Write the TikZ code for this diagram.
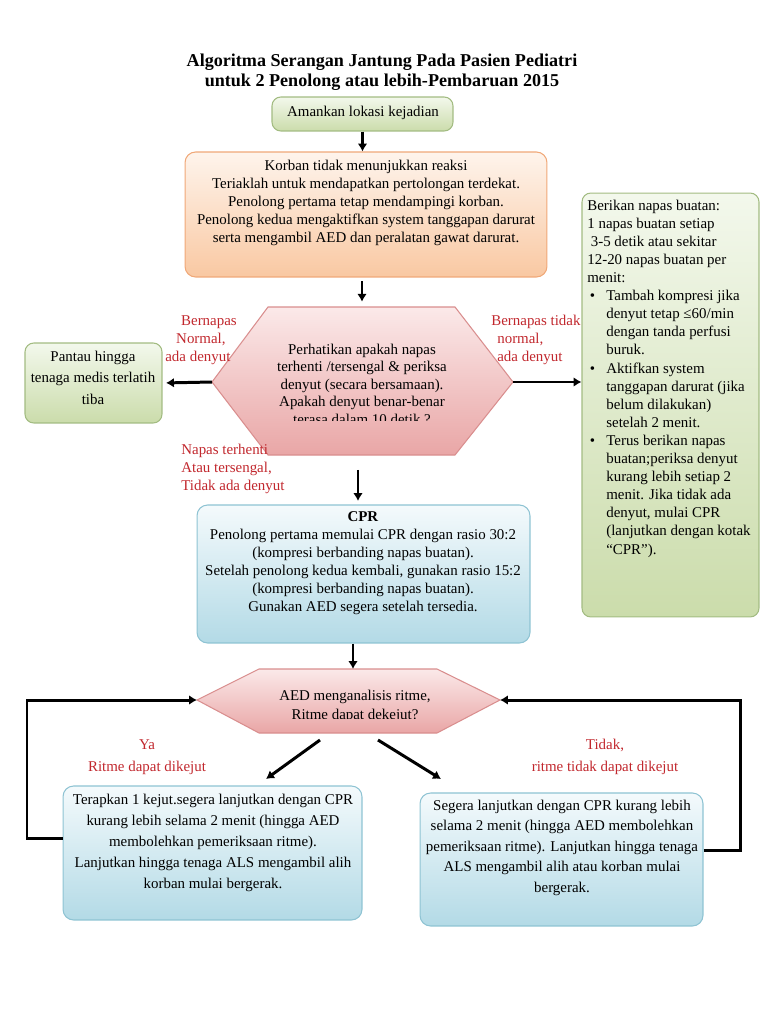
\documentclass[tikz,border=0pt]{standalone}
\usepackage{fontspec}
\setmainfont{Liberation Serif}
\usetikzlibrary{positioning,arrows.meta}
\definecolor{gtop}{HTML}{F3F8EC}
\definecolor{gbot}{HTML}{CBDCAB}
\definecolor{gline}{HTML}{A3BC82}
\definecolor{otop}{HTML}{FEF4EC}
\definecolor{obot}{HTML}{F9C8A2}
\definecolor{oline}{HTML}{F0A878}
\definecolor{rtop}{HTML}{FBE9E9}
\definecolor{rbot}{HTML}{E9A6A6}
\definecolor{rline}{HTML}{D98E8E}
\definecolor{btop}{HTML}{F4FAFC}
\definecolor{bbot}{HTML}{B3DAE6}
\definecolor{bline}{HTML}{8EC3D3}
\definecolor{redlbl}{HTML}{C1272D}
\newcommand\pitem{\makebox[10.8pt][l]{\hspace{1.5pt}\textbullet}}
\newcommand\pind{\hspace*{10.8pt}}
\begin{document}
\begin{tikzpicture}[x=0.02cm, y=-0.02cm,
        font=\fontsize{8.5}{10.2}\selectfont,
        gbox/.style={draw=gline, top color=gtop, bottom color=gbot, rounded corners=5pt, line width=0.6pt, inner sep=0pt},
        obox/.style={draw=oline, top color=otop, bottom color=obot, rounded corners=6pt, line width=0.6pt, inner sep=0pt},
        bbox/.style={draw=bline, top color=btop, bottom color=bbot, rounded corners=6pt, line width=0.6pt, inner sep=0pt},
        hexa/.style={draw=rline, top color=rtop, bottom color=rbot, line width=0.6pt},
        txt/.style={align=center, inner sep=0pt, anchor=base},
        lbl/.style={text=redlbl, inner sep=0pt},
        arr/.style={-{Latex[length=4.5pt,width=5.5pt]}, line width=1.7pt}]
    \useasboundingbox (0,0) rectangle (768,1024);
    % judul (base = baris terakhir)
    \node[txt, font=\fontsize{10.3}{11.4}\selectfont\bfseries] (title) at (382,87) {Algoritma Serangan Jantung Pada Pasien Pediatri\\untuk 2 Penolong atau lebih-Pembaruan 2015};
    % kotak-kotak
    \node[gbox, minimum width=3.62cm, minimum height=0.68cm] (safe) at (362.5,114) {};
    \node[txt] (safetxt) at (363,116) {Amankan lokasi kejadian};
    \node[obox, minimum width=7.24cm, minimum height=2.5cm] (victim) at (366,214.5) {};
    \node[txt] (victimtxt) at (366,242) {Korban tidak menunjukkan reaksi\\Teriaklah untuk mendapatkan pertolongan terdekat.\\Penolong pertama tetap mendampingi korban.\\Penolong kedua mengaktifkan system tanggapan darurat\\serta mengambil AED dan peralatan gawat darurat.};
    \path[hexa] (268,307) -- (455,307) -- (513,382) -- (455,455) -- (268,455) -- (212,382) -- cycle;
    \coordinate (checkN) at (362,307);
    \coordinate (checkS) at (358,455);
    \coordinate (checkW) at (212,382);
    \coordinate (checkE) at (513,382);
    \begin{scope}
        \clip (212,300) rectangle (513,420.5);
        \node[txt, font=\fontsize{8.5}{10}\selectfont] (check) at (362,424.4) {Perhatikan apakah napas\\terhenti /tersengal \& periksa\\denyut (secara bersamaan).\\Apakah denyut benar-benar\\terasa dalam 10 detik ?};
    \end{scope}
    \node[gbox, minimum width=2.74cm, minimum height=1.6cm] (watch) at (93.5,383) {};
    \node[txt, font=\fontsize{8.5}{12.2}\selectfont] (watchtxt) at (93,404) {Pantau hingga\\tenaga medis terlatih\\tiba};
    \node[gbox, minimum width=3.54cm, minimum height=8.48cm] (breath) at (670.5,405) {};
    \node[align=left, inner sep=0pt, anchor=base west, font=\fontsize{8.5}{10.3}\selectfont] (breathtxt) at (587,554) {Berikan napas buatan:\\1 napas buatan setiap\\\hspace*{2pt}3-5 detik atau sekitar\\12-20 napas buatan per\\menit:\\
        \pitem Tambah kompresi jika\\\pind denyut tetap ≤60/min\\\pind dengan tanda perfusi\\\pind buruk.\\
        \pitem Aktifkan system\\\pind tanggapan darurat (jika\\\pind belum dilakukan)\\\pind setelah 2 menit.\\
        \pitem Terus berikan napas\\\pind buatan;periksa denyut\\\pind kurang lebih setiap 2\\\pind menit. Jika tidak ada\\\pind denyut, mulai CPR\\\pind (lanjutkan dengan kotak\\\pind “CPR”).};
    \node[bbox, minimum width=6.66cm, minimum height=2.76cm] (cpr) at (363.5,574) {};
    \node[txt] (cprtxt) at (363,611) {\textbf{CPR}\\Penolong pertama memulai CPR dengan rasio 30:2\\(kompresi berbanding napas buatan).\\Setelah penolong kedua kembali, gunakan rasio 15:2\\(kompresi berbanding napas buatan).\\Gunakan AED segera setelah tersedia.};
    \path[hexa] (259,669) -- (437,669) -- (500,700) -- (437,733) -- (259,733) -- (197,700) -- cycle;
    \coordinate (aedN) at (353,669);
    \coordinate (aedW) at (197,700);
    \coordinate (aedE) at (500,700);
    \coordinate (aedSW) at (320,740);
    \coordinate (aedSE) at (378,740);
    \coordinate (yaEnd) at (266,779);
    \coordinate (tidakEnd) at (441,779);
    \coordinate (loopL) at (27,700);
    \coordinate (loopR) at (740,700);
    \begin{scope}
        \clip (197,660) rectangle (500,718);
        \node[txt, font=\fontsize{8.5}{10.8}\selectfont] (aed) at (355,719) {AED menganalisis ritme,\\Ritme dapat dekejut?};
    \end{scope}
    \node[bbox, minimum width=5.98cm, minimum height=2.68cm] (shock) at (212.5,853) {};
    \node[txt, font=\fontsize{8.5}{11.9}\selectfont] (shocktxt) at (213,888) {Terapkan 1 kejut.segera lanjutkan dengan CPR\\kurang lebih selama 2 menit (hingga AED\\membolehkan pemeriksaan ritme).\\Lanjutkan hingga tenaga ALS mengambil alih\\korban mulai bergerak.};
    \node[bbox, minimum width=5.66cm, minimum height=2.66cm] (resume) at (561.5,859.5) {};
    \node[txt, font=\fontsize{8.5}{11.6}\selectfont] (resumetxt) at (562,892) {Segera lanjutkan dengan CPR kurang lebih\\selama 2 menit (hingga AED membolehkan\\pemeriksaan ritme). Lanjutkan hingga tenaga\\ALS mengambil alih atau korban mulai\\bergerak.};
    % label merah
    \node[lbl, align=left, anchor=base west, font=\fontsize{8.5}{10}\selectfont] (normal) at (165,361) {\hspace*{9pt}Bernapas\\\hspace*{6.2pt}Normal,\\ada denyut};
    \node[lbl, align=left, anchor=base west, font=\fontsize{8.5}{10}\selectfont] (abnormal) at (491,361) {Bernapas tidak\\\hspace*{3.4pt}normal,\\\hspace*{3.4pt}ada denyut};
    \node[lbl, align=left, anchor=base west, font=\fontsize{8.5}{10}\selectfont] (arrest) at (181,490) {Napas terhenti\\Atau tersengal,\\Tidak ada denyut};
    \node[lbl, align=center, anchor=base, font=\fontsize{8.5}{12}\selectfont] (ya) at (147,771) {Ya\\Ritme dapat dikejut};
    \node[lbl, align=center, anchor=base, font=\fontsize{8.5}{12}\selectfont] (tidak) at (605,771) {Tidak,\\ritme tidak dapat dikejut};
    % panah
    \draw[arr] (safe.south) -- (safe.south |- victim.north);
    \draw[arr, shorten <=2pt, shorten >=3pt] (victim.south -| checkN) -- (checkN);
    \draw[arr, shorten >=2pt] (checkW) -- (watch.east);
    \draw[arr] (checkE) -- (breath.west |- checkE);
    \draw[arr, shorten <=8.5pt, shorten >=2pt] (checkS) -- (cpr.north -| checkS);
    \draw[arr] (cpr.south -| aedN) -- (aedN);
    \draw[arr] (aedSW) -- (yaEnd);
    \draw[arr] (aedSE) -- (tidakEnd);
    \draw[arr] (shock.west) ++(0,-15) -| (loopL) -- (aedW);
    \draw[arr] (resume.east) ++(0,-9.5) -| (loopR) -- (aedE);
\end{tikzpicture}
\end{document}
